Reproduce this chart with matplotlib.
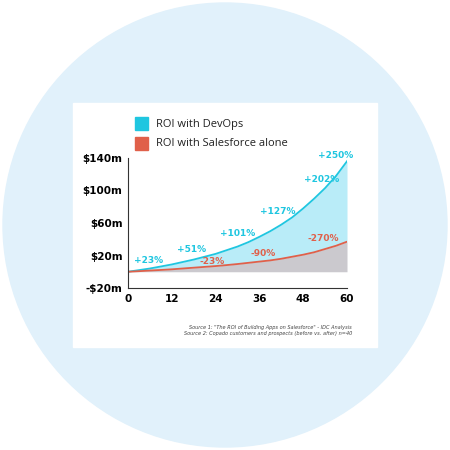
import matplotlib
matplotlib.use("Agg")
import matplotlib.pyplot as plt
from matplotlib.patches import Circle, Rectangle

months = [0, 3, 6, 9, 12, 15, 18, 21, 24, 27, 30, 33, 36, 39, 42, 45, 48, 51, 54, 57, 60]
devops = [0, 2, 4, 6.5, 9, 12, 15, 18.5, 22, 26.5, 31, 36.5, 43, 50, 58, 67, 78, 90, 103, 118, 136]
sfdc = [0, 0.7, 1.5, 2.2, 3, 4, 5, 6, 7, 8.2, 9.5, 11, 12.5, 14, 16, 18.5, 21, 24, 28, 32, 37]
dev_labels = ["+23%", "+51%", "+101%", "+127%", "+202%", "+250%"]
dev_lx = [5.7, 17.5, 30, 41, 53, 57]
dev_ly = [13.5, 27, 47, 74, 114, 143]
sf_labels = ["-23%", "-90%", "-270%"]
sf_lx = [23, 37, 53.5]
sf_ly = [12, 22, 41]
yticks = [-20, 20, 60, 100, 140]
ytick_labels = ["-$20m", "$20m", "$60m", "$100m", "$140m"]
xticks = [0, 12, 24, 36, 48, 60]

CYAN = "#1fc6e0"; RED = "#e0604a"
fig = plt.figure(figsize=(4.5, 4.5), dpi=100)
bg = fig.add_axes([0, 0, 1, 1]); bg.set_xlim(0, 450); bg.set_ylim(450, 0); bg.axis("off")
bg.add_patch(Circle((225, 225), 222, color="#e1f1fb"))
bg.add_patch(Rectangle((73, 103), 304, 244, color="white"))
bg.add_patch(Rectangle((135, 117), 13, 13, color=CYAN))
bg.add_patch(Rectangle((135, 137), 13, 13, color=RED))
bg.text(156, 124, "ROI with DevOps", va="center", fontsize=8, family="Open Sans", color="#222")
bg.text(156, 144, "ROI with Salesforce alone", va="center", fontsize=8, family="Open Sans", color="#222")
bg.text(352, 327, "Source 1: \"The ROI of Building Apps on Salesforce\" - IDC Analysis",
        ha="right", va="center", fontsize=3.6, style="italic", color="#444")
bg.text(352, 333, "Source 2: Copado customers and prospects (before vs. after) n=40",
        ha="right", va="center", fontsize=3.6, style="italic", color="#444")

ax = fig.add_axes([128/450, 1-288/450, 219/450, 130/450])
ax.fill_between(months, sfdc, devops, color="#b9ecf8", lw=0)
ax.fill_between(months, 0, sfdc, color="#cbc9ce", lw=0)
ax.plot(months, devops, color=CYAN, lw=1.3)
ax.plot(months, sfdc, color=RED, lw=1.3)
for t, x, y in zip(dev_labels, dev_lx, dev_ly):
    ax.text(x, y, t, color=CYAN, fontsize=6.5, fontweight="bold", ha="center", va="center")
for t, x, y in zip(sf_labels, sf_lx, sf_ly):
    ax.text(x, y, t, color=RED, fontsize=6.5, fontweight="bold", ha="center", va="center")
ax.set_xlim(0, 60); ax.set_ylim(-20, 140)
ax.set_xticks(xticks); ax.set_xticklabels([str(v) for v in xticks], fontsize=7.5, fontweight="bold")
ax.set_yticks(yticks); ax.set_yticklabels(ytick_labels, fontsize=7.5, fontweight="bold")
ax.tick_params(length=0, pad=4)
for s in ["top", "right"]:
    ax.spines[s].set_visible(False)
for s in ["left", "bottom"]:
    ax.spines[s].set_color("#333"); ax.spines[s].set_linewidth(0.8)
ax.set_facecolor("none")
fig.savefig("out.png", dpi=100)
